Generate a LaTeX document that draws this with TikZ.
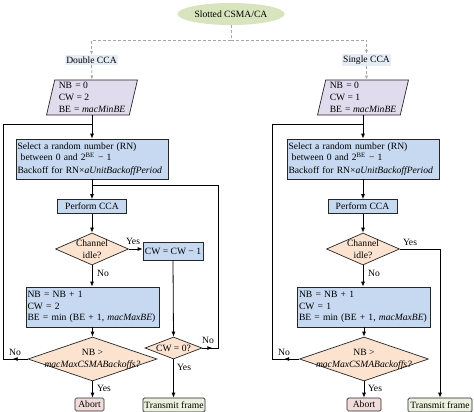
\documentclass[tikz,border=0pt]{standalone}
\usepackage{fontspec}
\setmainfont{Liberation Serif}
\usetikzlibrary{shapes.geometric,arrows.meta,decorations.markings}
\definecolor{ellgreen}{HTML}{D7E4BD}
\definecolor{lblue}{HTML}{E6EDF7}
\definecolor{paracol}{HTML}{E0DCEE}
\definecolor{procblue}{HTML}{C6D9F1}
\definecolor{decpeach}{HTML}{FBE3D0}
\definecolor{abortpink}{HTML}{F2DCDB}
\definecolor{txgreen}{HTML}{EBF1DE}
\tikzset{
  base/.style={font=\fontsize{9.6}{11.8}\selectfont, inner sep=1.5pt},
  para/.style={base, trapezium, trapezium left angle=77, trapezium right angle=103,
    trapezium stretches=true, draw=black!85, line width=0.7pt, fill=paracol,
    minimum width=91pt, minimum height=35pt, align=left},
  proc/.style={base, rectangle, draw=black!85, line width=0.7pt, fill=procblue, align=left},
  dec/.style={base, diamond, draw=black!85, line width=0.7pt, fill=decpeach, inner sep=0pt},
  term/.style={base, rectangle, rounded corners=1.5pt, draw=black!85, line width=0.7pt},
  lab/.style={base, fill=lblue},
  txt/.style={base},
  conn/.style={line width=0.8pt, -{Latex[length=5pt,width=4pt]}},
  dline/.style={gray!70, line width=0.8pt, dash pattern=on 3pt off 2pt, -{Latex[length=4pt,width=3pt]}},
  marrow/.style={line width=0.8pt, decoration={markings, mark=at position #1 with {\arrow{Latex[length=5pt,width=4pt]}}}, postaction={decorate}},
}
\newcommand{\selecttext}{\mbox{Select a random number (RN)}\\\mbox{\ between 0 and 2\textsuperscript{BE} − 1}\\[1pt]\mbox{Backoff for RN×\textit{aUnitBackoffPeriod}}}
\begin{document}
\begin{tikzpicture}[x=1pt,y=-1pt]
\useasboundingbox (0,0) rectangle (474,412);
% top
\node[base, ellipse, fill=ellgreen, minimum width=105pt, minimum height=22pt] (ell) at (231,14) {Slotted CSMA/CA};
\node[lab] (dbl) at (91.5,60) {Double CCA};
\node[lab] (sgl) at (366.5,60) {Single CCA};
\coordinate (split) at (231,40);
\draw[dline] (ell.south) -- (split) -| (dbl.north);
\draw[dline] (split) -| (sgl.north);

% ---------- left column: Double CCA ----------
\node[para] (p1) at (92,97.5) {NB\,\,= 0\\CW = 2\\BE\,\,= \textit{macMinBE}};
\draw[dline] (dbl.south) -- (p1.north);
\node[proc, text width=149pt, minimum height=40pt] (sel1) at (92,159) {\selecttext};
\node[proc, minimum width=69pt, minimum height=14pt, align=center] (perf1) at (92,206.5) {Perform CCA};
\node[dec, minimum width=73pt, minimum height=32pt, label={[base,align=center]center:Channel\\idle?}] (idle1) at (92,249) {};
\node[proc, minimum width=60pt, minimum height=18pt, align=center] (cw1) at (173,251) {CW = CW − 1};
\node[proc, text width=130pt, minimum height=40pt] (nb1) at (92.5,307)
  {NB = NB + 1\\CW = 2\\\mbox{BE = min (BE + 1, \textit{macMaxBE})}};
\node[dec, minimum width=129pt, minimum height=44pt, label={[base,align=center]center:NB >\\\textit{macMaxCSMABackoffs?}}] (max1) at (92.5,359) {};
\node[term, fill=abortpink, minimum width=29pt, minimum height=13pt] (ab1) at (89.5,404.5) {Abort};
\node[dec, minimum width=57pt, minimum height=22pt, label={[base]center:CW = 0?}] (cz1) at (173.5,348) {};
\node[term, fill=txgreen, minimum width=62pt, minimum height=14pt] (tx1) at (174,405) {Transmit frame};
\coordinate (jl1) at (92,124);
\coordinate (jr1) at (92,185);
\coordinate (xl1) at (3,0);
\coordinate (xr1) at (218,0);

\draw[conn] (sel1.north |- p1.south) -- (sel1.north);
\draw[conn] (sel1.south) -- (perf1.north);
\draw[conn] (perf1.south) -- (idle1.north);
\draw[conn] (idle1.east) -- (cw1.west |- idle1.east);
\draw[conn] (idle1.south) -- (nb1.north -| idle1.south);
\draw[conn] (nb1.south -| max1.north) -- (max1.north);
\draw[conn] (max1.south) -- (max1.south |- ab1.north);
\draw[conn] (cw1.south) -- (cz1.north);
\draw[conn] (cz1.south) -- (cz1.south |- tx1.north);
\draw[marrow=15pt] (max1.west) -- (max1.west -| xl1) |- (jl1);
\draw[marrow=10pt] (cz1.east) -- (cz1.east -| xr1) |- (jr1);
\node[txt] at (133,241) {Yes};
\node[txt] at (103,273) {No};
\node[txt] at (15,352) {No};
\node[txt] at (104,388) {Yes};
\node[txt] at (208,340) {No};
\node[txt] at (184,367) {Yes};

% ---------- right column: Single CCA ----------
\node[para] (p2) at (363,97.5) {NB\,\,= 0\\CW = 1\\BE\,\,= \textit{macMinBE}};
\draw[dline] (sgl.south) -- (sgl.south |- p2.north);
\node[proc, text width=149pt, minimum height=40pt] (sel2) at (363,159) {\selecttext};
\node[proc, minimum width=69pt, minimum height=14pt, align=center] (perf2) at (362.5,206.5) {Perform CCA};
\node[dec, minimum width=73pt, minimum height=32pt, label={[base,align=center]center:Channel\\idle?}] (idle2) at (363,249) {};
\node[proc, text width=130pt, minimum height=40pt] (nb2) at (364,307)
  {NB = NB + 1\\CW = 1\\\mbox{BE = min (BE + 1, \textit{macMaxBE})}};
\node[dec, minimum width=129pt, minimum height=44pt, label={[base,align=center]center:NB >\\\textit{macMaxCSMABackoffs?}}] (max2) at (364,359) {};
\node[term, fill=abortpink, minimum width=34pt, minimum height=13pt] (ab2) at (364,404.5) {Abort};
\node[term, fill=txgreen, minimum width=64pt, minimum height=14pt] (tx2) at (440,405) {Transmit frame};
\coordinate (jl2) at (363,124);
\coordinate (xl2) at (272,0);

\draw[conn] (sel2.north |- p2.south) -- (sel2.north);
\draw[conn] (sel2.south) -- (sel2.south |- perf2.north);
\draw[conn] (perf2.south -| idle2.north) -- (idle2.north);
\draw[conn] (idle2.south) -- (idle2.south |- nb2.north);
\draw[conn] (nb2.south -| max2.north) -- (max2.north);
\draw[conn] (max2.south) -- (max2.south |- ab2.north);
\draw[conn] (idle2.east) -| (tx2.north);
\draw[marrow=15pt] (max2.west) -- (max2.west -| xl2) |- (jl2);
\node[txt] at (410,242) {Yes};
\node[txt] at (374,273) {No};
\node[txt] at (284,352) {No};
\node[txt] at (375,388) {Yes};
\end{tikzpicture}
\end{document}
